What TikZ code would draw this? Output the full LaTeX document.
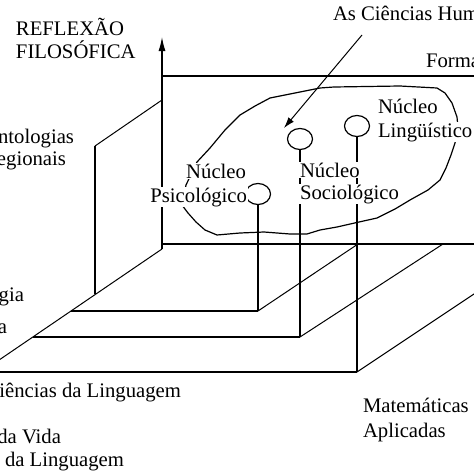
\documentclass[tikz,border=0pt]{standalone}
\usepackage{fontspec}
\setmainfont{Liberation Serif}
\usetikzlibrary{arrows.meta,shapes.geometric}
\tikzset{
  lbl/.style={font=\fontsize{20.7}{23}\selectfont,inner sep=0.8pt,fill=white},
  frame/.style={line width=1.3pt},
  slant/.style={line width=1pt},
  nuc/.style={draw,line width=1.2pt,ellipse,minimum width=25pt,minimum height=21pt,inner sep=0pt}
}

\begin{document}
\begin{tikzpicture}[x=1pt,y=-1pt]
\useasboundingbox (0,0) rectangle (474,474);
\clip (0,0) rectangle (474,474);
\fill [white] (0,0) rectangle (474,474);

% corners of the frame
\coordinate (axtop) at (162,37);
\coordinate (axbot) at (162,249);
\coordinate (back) at (162,76);
\coordinate (backR) at (480,76);
\coordinate (wallT) at (162,100);
\coordinate (wallL) at (95,146);
\coordinate (wallB) at (95,294);
\coordinate (floor) at (162,244);
\coordinate (floorR) at (480,244);
\coordinate (diagEnd) at (-20,373);
\coordinate (psiL) at (71,311);
\coordinate (psiF) at (258,311);
\coordinate (socL) at (33,337);
\coordinate (socF) at (300,337);
\coordinate (linL) at (-30,372);
\coordinate (linF) at (357,372);
\coordinate (psiR) at (358,244);
\coordinate (socR) at (443,244);
\coordinate (linR) at (480,290);
\coordinate (humA) at (362,35);
\coordinate (humB) at (284,128);

% axis and planes
\draw [frame,-{Latex[length=14pt,width=7pt]}] (axbot) -- (axtop);
\draw [frame] (back) -- (backR);
\draw [frame] (floor) -- (floorR);
\draw [slant] (wallT) -- (wallL);
\draw [frame] (wallL) -- (wallB);
\draw [slant] (axbot) -- (diagEnd);

% the field of the human sciences
\draw [line width=1.2pt]
(197,162) -- (210,148) -- (225,130) -- (240,115) -- (255,106) -- (270,98) -- (300,92)
-- (320,88) -- (334,87) -- (400,86) -- (437,88) -- (445,93) -- (452,103) -- (457,117)
-- (458,128) -- (455,143) -- (451,155) -- (446,168) -- (440,180) -- (428,190)
-- (410,200) -- (395,209) -- (377,218) -- (359,222) -- (337,227) -- (320,230)
-- (307,234) -- (290,234) -- (264,232) -- (240,233) -- (217,235) -- (205,230)
-- (196,222) -- (188,213) -- (182,205) -- (186,185) -- cycle;

% the three nuclei
\node [nuc] (psi) at (258,194) {};
\node [nuc] (soc) at (300,139) {};
\node [nuc] (lin) at (357,126) {};
\draw [frame] (psi.south) -- (psiF);
\draw [frame] (soc.south) -- (socF);
\draw [frame] (lin.south) -- (linF);
\draw [frame] (psiL) -- (psiF);
\draw [frame] (socL) -- (socF);
\draw [frame] (linL) -- (linF);
\draw [slant] (psiF) -- (psiR);
\draw [slant] (socF) -- (socR);
\draw [slant] (linF) -- (linR);

\draw [slant,-{Latex[length=11pt,width=7pt]}] (humA) -- (humB);

% labels
\node [lbl,anchor=base west] (refl1) at (15,35) {REFLEXÃO};
\node [lbl,anchor=base west] (refl2) at (15,58) {FILOSÓFICA};
\node [lbl,anchor=base west] (hum) at (332,20) {As Ciências Humanas};
\node [lbl,anchor=base west] (forma) at (425,67) {Formalização};
\node [lbl,anchor=base east] (onto1) at (75,143) {Ontologias};
\node [lbl,anchor=base west] (onto2) at (onto1.base west) [yshift=-22pt] {Regionais};
\node [lbl,anchor=base east] (psiA) at (247,178) {Núcleo};
\node [lbl,anchor=base east] (psiB) at (248,202) {Psicológico};
\node [lbl,anchor=base west] (socA) at (299,177) {Núcleo};
\node [lbl,anchor=base west] (socB) at (299,199) {Sociológico};
\node [lbl,anchor=base west] (linA) at (377,113) {Núcleo};
\node [lbl,anchor=base west] (linB) at (377,137) {Lingüístico};
\node [lbl,anchor=base east] (psiAx) at (25,301) {Psicologia};
\node [lbl,anchor=base east] (socAx) at (8,333) {Sociologia};
\node [lbl,anchor=base east] (linAx) at (182,397) {Ciências da Linguagem};
\node [lbl,anchor=base east] (vida1) at (62,443) {Mundo da Vida};
\node [lbl,anchor=base east] (vida2) at (125,466) {da Linguagem};
\node [lbl,anchor=base west] (mat1) at (362,412) {Matemáticas};
\node [lbl,anchor=base west] (mat2) at (362,437) {Aplicadas};
\end{tikzpicture}
\end{document}
